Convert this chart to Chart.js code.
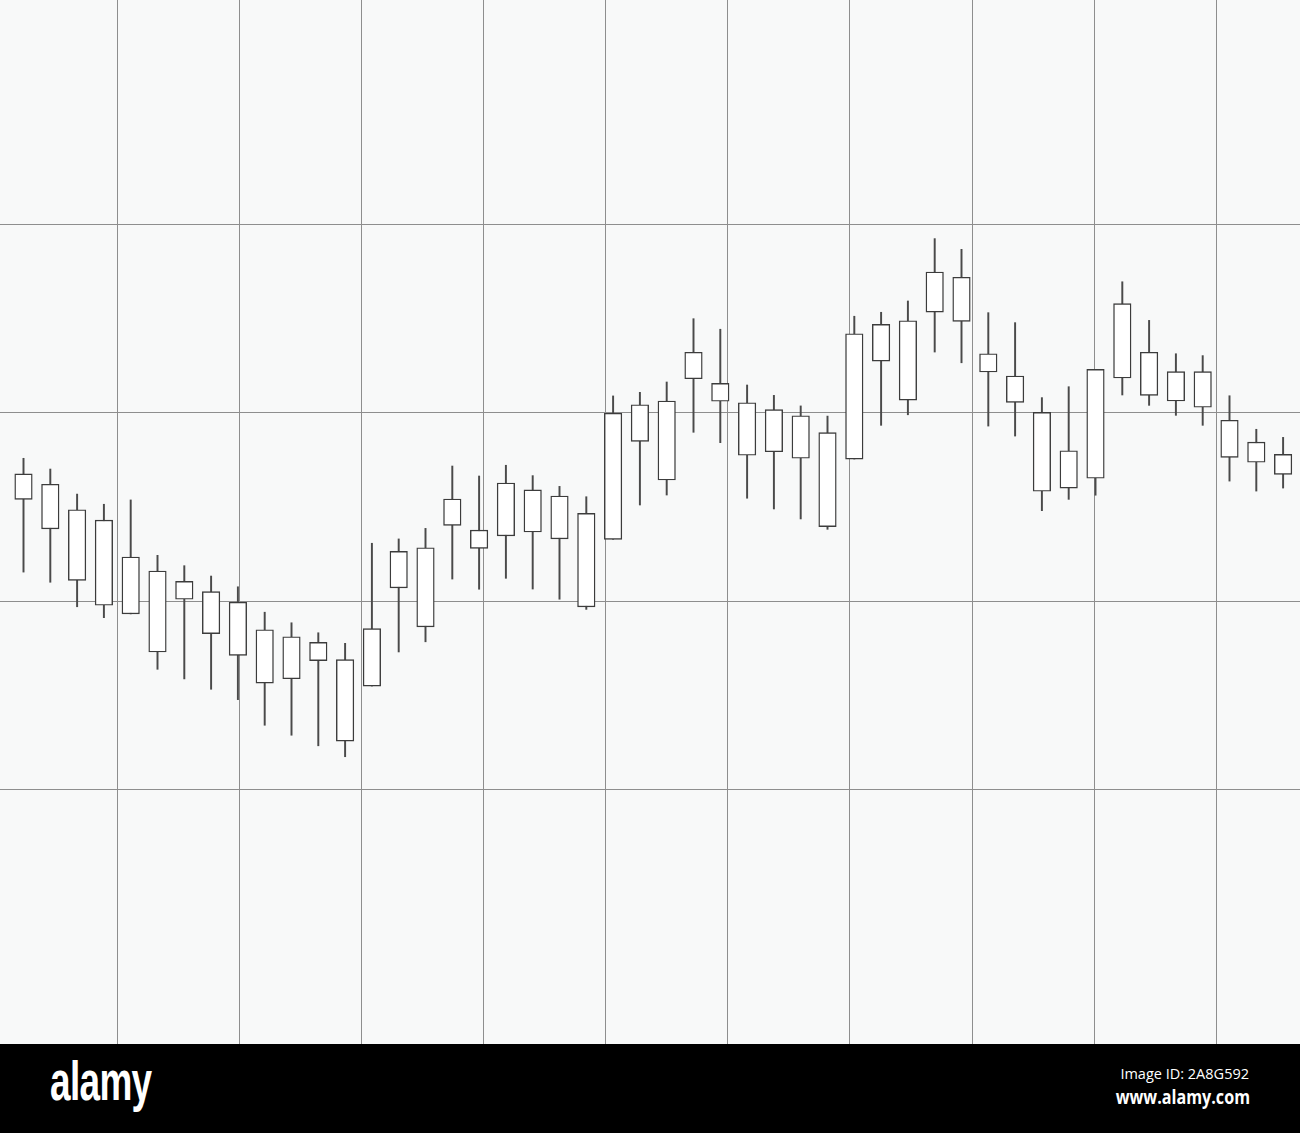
<!DOCTYPE html>
<html>
<head>
<meta charset="utf-8">
<script src="https://cdn.jsdelivr.net/npm/chart.js@4.4.1/dist/chart.umd.min.js"></script>
<style>
  html, body { margin: 0; padding: 0; background: #000; }
  #page { width: 1300px; height: 1133px; position: relative; overflow: hidden; }
  #plot { position: absolute; left: 0; top: 0; width: 1300px; height: 1044px; background: #f8f9f9; }
  #band { position: absolute; left: 0; top: 1044px; width: 1300px; height: 89px; background: #000; color: #fff; }
  .logo { position: absolute; left: 50px; top: 4px; font-family: "Liberation Sans", Arial, sans-serif; font-weight: bold;
          font-size: 56px; letter-spacing: -1px; transform: scaleX(0.66); transform-origin: left top; }
  .imgid { position: absolute; right: 51px; top: 20px; font-family: "Open Sans", sans-serif; font-size: 14.5px;
           white-space: nowrap; }
  .site { position: absolute; right: 50px; top: 40px; font-family: "Open Sans", sans-serif; font-weight: bold;
          font-size: 19px; white-space: nowrap; transform: scaleX(0.85); transform-origin: right top; }
</style>
</head>
<body>
<div id="page">
  <div id="plot"><canvas id="candles"></canvas></div>
  <div id="band">
    <div class="logo">alamy</div>
    <div class="imgid">Image ID: 2A8G592</div>
    <div class="site">www.alamy.com</div>
  </div>
</div>
<script>
// OHLC values, one entry per session
const open  = [116.75, 116.20, 114.85, 114.30, 112.34, 111.60, 111.05, 110.50, 109.94, 108.48, 108.11, 107.81, 106.89,
               105.49, 110.70, 108.63, 114.02, 113.77, 113.46, 115.90, 115.58, 114.66, 113.28, 118.48, 116.43, 121.80,
               121.56, 120.53, 120.16, 119.84, 118.94, 117.54, 122.74, 120.67, 125.34, 127.19, 123.13, 121.95, 120.02,
               117.98, 116.52, 121.84, 123.21, 122.18, 122.18, 119.60, 118.44, 117.79];
const high  = [117.58, 117.01, 115.68, 115.14, 115.37, 112.43, 111.88, 111.33, 110.76, 109.41, 108.85, 108.32, 107.76,
               113.07, 113.30, 113.86, 117.17, 116.64, 117.21, 116.66, 116.09, 115.54, 120.89, 121.08, 121.63, 124.99,
               124.43, 121.47, 120.92, 120.36, 119.82, 125.12, 125.33, 125.93, 129.24, 128.67, 125.31, 124.78, 120.80,
               121.38, 122.30, 126.95, 124.90, 123.13, 123.03, 120.90, 119.12, 118.69];
const low   = [111.54, 111.00, 109.70, 109.12, 109.32, 106.38, 105.87, 105.32, 104.77, 103.41, 102.88, 102.32, 101.74,
               105.49, 107.30, 107.84, 111.17, 110.63, 111.21, 110.64, 110.10, 109.56, 113.28, 115.10, 115.63, 118.96,
               118.41, 115.46, 114.89, 114.36, 113.81, 117.54, 119.33, 119.89, 123.22, 122.65, 119.29, 118.76, 114.80,
               115.40, 115.62, 120.94, 120.39, 119.86, 119.33, 116.37, 115.84, 116.00];
const close = [115.40, 113.83, 111.10, 109.78, 109.32, 107.30, 110.10, 108.27, 107.12, 105.65, 105.88, 106.84, 102.57,
               108.54, 112.64, 112.83, 115.42, 112.80, 116.27, 113.67, 113.30, 109.69, 119.97, 120.42, 120.62, 123.21,
               120.61, 117.74, 117.93, 117.58, 113.95, 124.19, 124.69, 124.88, 127.47, 124.85, 122.16, 120.55, 115.83,
               116.00, 122.30, 125.79, 120.92, 120.62, 120.29, 117.63, 117.37, 116.73];
const priceTicks = [100, 110, 120, 130];

// layout (pixels)
const W = 1300, H = 1044;
const FIRST_X = 23.5, STEP_X = 26.8;        // centre of first candle, distance between candles
const VGRID_X = 117.3, VGRID_STEP = 122.1;  // vertical grid lines
const Y_AT_100 = 789.5, PX_PER_UNIT = 18.84;

const sessions = open.map((_, i) => i);
const xMin = -FIRST_X / STEP_X;
const xMax = (W - FIRST_X) / STEP_X;
const xGrid = [];
for (let px = VGRID_X; px < W; px += VGRID_STEP) xGrid.push((px - FIRST_X) / STEP_X);

const yMax = 100 + Y_AT_100 / PX_PER_UNIT;
const yMin = 100 - (H - Y_AT_100) / PX_PER_UNIT;

const wicks = sessions.map(i => ({ x: i, y: [low[i], high[i]] }));
const bodies = sessions.map(i => ({ x: i, y: [open[i], close[i]] }));

const gridStyle = { color: '#8e8e8e', lineWidth: 1, drawTicks: false, offset: false };

new Chart(document.getElementById('candles'), {
    type: 'bar',
    data: {
        datasets: [
            {
                label: 'body',
                data: bodies,
                grouped: false,
                barThickness: 17.5,
                backgroundColor: '#ffffff',
                borderColor: '#3c3c3c',
                borderWidth: 1.4,
                borderSkipped: false,
                order: 0
            },
            {
                label: 'wick',
                data: wicks,
                grouped: false,
                barThickness: 1.3,
                backgroundColor: '#4a4a4a',
                borderWidth: 0,
                order: 1
            }
        ]
    },
    options: {
        responsive: true,
        maintainAspectRatio: false,
        animation: false,
        layout: { padding: 0 },
        plugins: { legend: { display: false }, tooltip: { enabled: false } },
        scales: {
            x: {
                type: 'linear',
                min: xMin,
                max: xMax,
                offset: false,
                grid: gridStyle,
                border: { display: false },
                ticks: { display: false },
                afterBuildTicks: s => { s.ticks = xGrid.map(v => ({ value: v })); }
            },
            y: {
                type: 'linear',
                min: yMin,
                max: yMax,
                beginAtZero: false,
                grid: gridStyle,
                border: { display: false },
                ticks: { display: false },
                afterBuildTicks: s => { s.ticks = priceTicks.map(v => ({ value: v })); }
            }
        }
    }
});
</script>
</body>
</html>
